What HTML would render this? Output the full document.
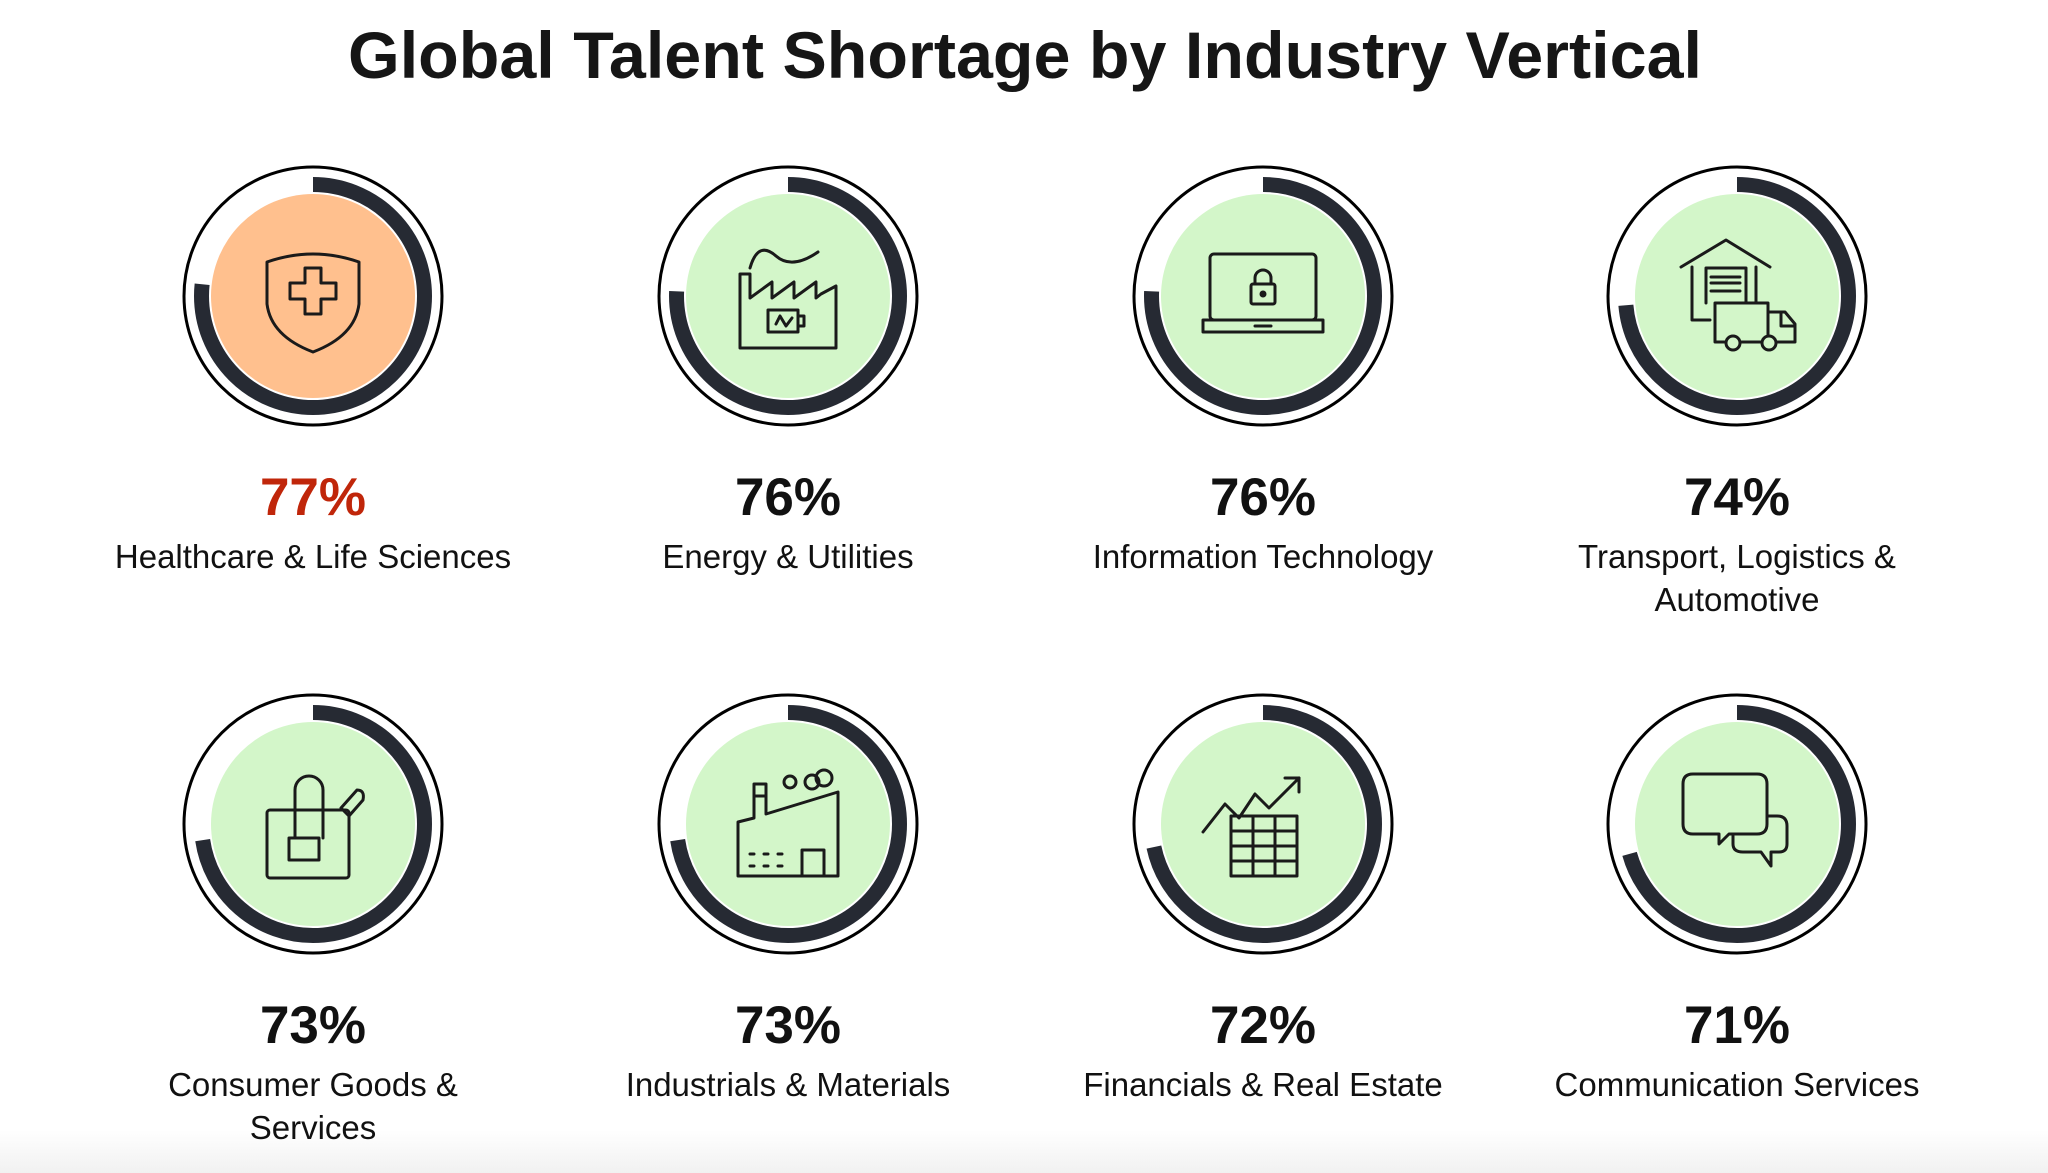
<!DOCTYPE html>
<html><head><meta charset="utf-8"><style>
html,body{margin:0;padding:0;background:#fff;}
body{width:2048px;height:1173px;overflow:hidden;background:linear-gradient(#fff 0,#fff 1130px,#f1f1f1 1173px);}
svg{display:block;font-family:"Liberation Sans",sans-serif;}
</style></head><body>
<svg width="2048" height="1173" viewBox="0 0 2048 1173" xmlns="http://www.w3.org/2000/svg">
<defs>
<g id="ring">
  <circle r="129" fill="#fff" stroke="#000" stroke-width="3"/>
</g>
</defs>
<text x="1025" y="78" text-anchor="middle" font-size="66" font-weight="bold" fill="#161616" textLength="1354" lengthAdjust="spacingAndGlyphs">Global Talent Shortage by Industry Vertical</text>

<g fill="none" stroke="#262a33" stroke-width="15">
<g transform="translate(313,296)"><use href="#ring"/><circle r="102" fill="#ffc08e" stroke="none"/><circle r="111.5" stroke-dasharray="537 1000" transform="rotate(-90)"/></g>
<g transform="translate(788,296)"><use href="#ring"/><circle r="102" fill="#d3f6c9" stroke="none"/><circle r="111.5" stroke-dasharray="530 1000" transform="rotate(-90)"/></g>
<g transform="translate(1263,296)"><use href="#ring"/><circle r="102" fill="#d3f6c9" stroke="none"/><circle r="111.5" stroke-dasharray="530 1000" transform="rotate(-90)"/></g>
<g transform="translate(1737,296)"><use href="#ring"/><circle r="102" fill="#d3f6c9" stroke="none"/><circle r="111.5" stroke-dasharray="516 1000" transform="rotate(-90)"/></g>
<g transform="translate(313,824)"><use href="#ring"/><circle r="102" fill="#d3f6c9" stroke="none"/><circle r="111.5" stroke-dasharray="509 1000" transform="rotate(-90)"/></g>
<g transform="translate(788,824)"><use href="#ring"/><circle r="102" fill="#d3f6c9" stroke="none"/><circle r="111.5" stroke-dasharray="509 1000" transform="rotate(-90)"/></g>
<g transform="translate(1263,824)"><use href="#ring"/><circle r="102" fill="#d3f6c9" stroke="none"/><circle r="111.5" stroke-dasharray="502 1000" transform="rotate(-90)"/></g>
<g transform="translate(1737,824)"><use href="#ring"/><circle r="102" fill="#d3f6c9" stroke="none"/><circle r="111.5" stroke-dasharray="495 1000" transform="rotate(-90)"/></g>
</g>

<g fill="none" stroke="#1a1a1a" stroke-width="3" stroke-linejoin="round" stroke-linecap="round">
<g transform="translate(313,296)">
<path d="M-46,-34 Q0,-50 46,-34 L46,8 Q42,40 0,56 Q-42,40 -46,8 Z"/>
<path d="M-8,-28 H8 V-13 H23 V3 H8 V18 H-8 V3 H-23 V-13 H-8 Z"/>
</g>
<g transform="translate(788,296)">
<path d="M-48,52 V-22 H-38 V2 L-16,-14 V2 L6,-14 V2 L28,-14 V2 L33,-2 L48,-10 V52 Z"/>
<path d="M-38,-28 Q-30,-56 -12,-40 Q4,-26 30,-44"/>
<rect x="-20" y="14" width="30" height="22"/><path d="M10,20 H16 V30 H10"/>
<path d="M-12,28 L-8,20 L-2,30 L4,22"/>
</g>
<g transform="translate(1263,296)">
<rect x="-53" y="-42" width="106" height="66" rx="4"/>
<path d="M-60,24 H60 V36 H-60 Z"/><path d="M-8,30 H8"/>
<rect x="-12" y="-12" width="24" height="20" rx="2"/>
<path d="M-8,-12 V-18 A8,8 0 0 1 8,-18 V-12"/><circle cy="-2" r="2" fill="#1a1a1a"/>
</g>
<g transform="translate(1737,296)">
<path d="M-56,-29 L-11,-56 L33,-29"/>
<path d="M-45,-29 V24 H-27"/><path d="M19,-29 V7"/>
<path d="M-31,7 V-28 H9 V7"/>
<path d="M-26,-19 H3 M-26,-13 H3 M-26,-5 H3"/>
<path d="M-22,7 H31 V46 H-22 Z"/>
<path d="M31,16 H48 L58,28 V46 H31"/>
<path d="M44,16 V30 H58"/>
<circle cx="-4" cy="47" r="7" fill="#d3f6c9"/><circle cx="32" cy="47" r="7" fill="#d3f6c9"/>
</g>
<g transform="translate(313,824)">
<rect x="-46" y="-14" width="82" height="68" rx="3"/>
<path d="M-18,-14 V-34 A14,14 0 0 1 10,-34 V-14"/>
<path d="M-18,-14 V14 M10,-14 V14"/>
<rect x="-24" y="14" width="30" height="22"/>
<path d="M36,-8 L28,-16 L44,-34 Q52,-34 50,-24 Z"/>
</g>
<g transform="translate(788,824)">
<path d="M-50,52 V-2 L-34,-6 V-40 H-22 V-10 L50,-32 V52 Z"/>
<path d="M-34,-28 H-22"/>
<circle cx="2" cy="-42" r="6"/><circle cx="24" cy="-42" r="7"/><circle cx="36" cy="-46" r="8"/>
<rect x="14" y="26" width="22" height="26"/>
<path d="M-38,30 H-34 M-24,30 H-20 M-10,30 H-6 M-38,42 H-34 M-24,42 H-20 M-10,42 H-6"/>
</g>
<g transform="translate(1263,824)">
<rect x="-32" y="-8" width="66" height="60"/>
<path d="M-32,7 H34 M-32,22 H34 M-32,37 H34 M-10,-8 V52 M12,-8 V52"/>
<path d="M-60,8 L-38,-20 L-24,-6 L-8,-30 L6,-16 L36,-46"/>
<path d="M22,-46 H36 V-32"/>
</g>
<g transform="translate(1737,824)">
<path d="M-44,-50 H20 Q30,-50 30,-40 V0 Q30,10 20,10 H-8 L-18,20 L-18,10 H-44 Q-54,10 -54,0 V-40 Q-54,-50 -44,-50 Z"/>
<path d="M30,-8 H40 Q50,-8 50,2 V20 Q50,28 42,28 H34 V42 L24,28 H6 Q-4,28 -4,20 V12"/>
</g>
</g>

<g text-anchor="middle" fill="#111">
<g font-size="53" font-weight="bold">
<text x="313" y="515" fill="#c0260a">77%</text>
<text x="788" y="515">76%</text>
<text x="1263" y="515">76%</text>
<text x="1737" y="515">74%</text>
<text x="313" y="1043">73%</text>
<text x="788" y="1043">73%</text>
<text x="1263" y="1043">72%</text>
<text x="1737" y="1043">71%</text>
</g>
<g font-size="33">
<text x="313" y="568">Healthcare &amp; Life Sciences</text>
<text x="788" y="568">Energy &amp; Utilities</text>
<text x="1263" y="568">Information Technology</text>
<text x="1737" y="568">Transport, Logistics &amp;</text>
<text x="1737" y="611">Automotive</text>
<text x="313" y="1096">Consumer Goods &amp;</text>
<text x="313" y="1139">Services</text>
<text x="788" y="1096">Industrials &amp; Materials</text>
<text x="1263" y="1096">Financials &amp; Real Estate</text>
<text x="1737" y="1096">Communication Services</text>
</g>
</g>
</svg>
</body></html>
